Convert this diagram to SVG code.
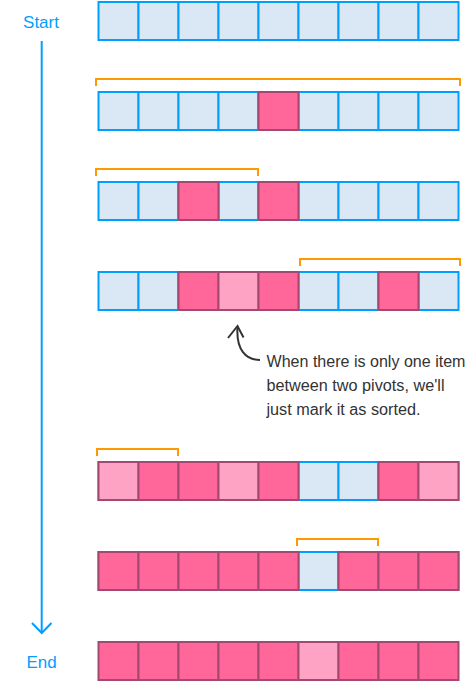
<svg xmlns="http://www.w3.org/2000/svg" width="475" height="682" viewBox="0 0 475 682">
<style>
.b{fill:#DAE8F6;stroke:#009FFF;stroke-width:2}
.p{fill:#FF6699;stroke:#A34870;stroke-width:2}
.l{fill:#FFA3C4;stroke:#A34870;stroke-width:2}
.br{fill:none;stroke:#FF9900;stroke-width:2}
.lbl{font-family:"Liberation Sans",Arial,sans-serif;font-size:17px;fill:#009FFF;text-anchor:middle}
.note{font-family:"Liberation Sans",Arial,sans-serif;font-size:16px;fill:#333333}
</style>
<defs>
<g id="row9">
<rect class="b" x="98.5" y="0" width="40" height="38"/>
<rect class="b" x="138.5" y="0" width="40" height="38"/>
<rect class="b" x="178.5" y="0" width="40" height="38"/>
<rect class="b" x="218.5" y="0" width="40" height="38"/>
<rect class="b" x="258.5" y="0" width="40" height="38"/>
<rect class="b" x="298.5" y="0" width="40" height="38"/>
<rect class="b" x="338.5" y="0" width="40" height="38"/>
<rect class="b" x="378.5" y="0" width="40" height="38"/>
<rect class="b" x="418.5" y="0" width="40" height="38"/>
</g>
</defs>
<g id="timeline">
<line x1="41.7" y1="41" x2="41.7" y2="632" stroke="#009FFF" stroke-width="2"/>
<path d="M32,623 L41.7,633 L51.5,623" fill="none" stroke="#009FFF" stroke-width="2"/>
<text id="start" class="lbl" x="41" y="28">Start</text>
<text id="end" class="lbl" x="41.5" y="668">End</text>
</g>
<g id="row1" transform="translate(0,2)">
<use href="#row9"/>
</g>
<g id="row2" transform="translate(0,92)">
<use href="#row9"/>
<rect class="p" x="258.5" y="0" width="40" height="38"/>
</g>
<g id="row3" transform="translate(0,182)">
<use href="#row9"/>
<rect class="p" x="178.5" y="0" width="40" height="38"/>
<rect class="p" x="258.5" y="0" width="40" height="38"/>
</g>
<g id="row4" transform="translate(0,272)">
<use href="#row9"/>
<rect class="p" x="178.5" y="0" width="40" height="38"/>
<rect class="l" x="218.5" y="0" width="40" height="38"/>
<rect class="p" x="258.5" y="0" width="40" height="38"/>
<rect class="p" x="378.5" y="0" width="40" height="38"/>
</g>
<g id="row5" transform="translate(0,462)">
<use href="#row9"/>
<rect class="l" x="98.5" y="0" width="40" height="38"/>
<rect class="p" x="138.5" y="0" width="40" height="38"/>
<rect class="p" x="178.5" y="0" width="40" height="38"/>
<rect class="l" x="218.5" y="0" width="40" height="38"/>
<rect class="p" x="258.5" y="0" width="40" height="38"/>
<rect class="p" x="378.5" y="0" width="40" height="38"/>
<rect class="l" x="418.5" y="0" width="40" height="38"/>
</g>
<g id="row6" transform="translate(0,552)">
<use href="#row9"/>
<rect class="p" x="98.5" y="0" width="40" height="38"/>
<rect class="p" x="138.5" y="0" width="40" height="38"/>
<rect class="p" x="178.5" y="0" width="40" height="38"/>
<rect class="p" x="218.5" y="0" width="40" height="38"/>
<rect class="p" x="258.5" y="0" width="40" height="38"/>
<rect class="p" x="338.5" y="0" width="40" height="38"/>
<rect class="p" x="378.5" y="0" width="40" height="38"/>
<rect class="p" x="418.5" y="0" width="40" height="38"/>
</g>
<g id="row7" transform="translate(0,642)">
<rect class="p" x="98.5" y="0" width="40" height="38"/>
<rect class="p" x="138.5" y="0" width="40" height="38"/>
<rect class="p" x="178.5" y="0" width="40" height="38"/>
<rect class="p" x="218.5" y="0" width="40" height="38"/>
<rect class="p" x="258.5" y="0" width="40" height="38"/>
<rect class="l" x="298.5" y="0" width="40" height="38"/>
<rect class="p" x="338.5" y="0" width="40" height="38"/>
<rect class="p" x="378.5" y="0" width="40" height="38"/>
<rect class="p" x="418.5" y="0" width="40" height="38"/>
</g>
<g id="brackets">
<path class="br" d="M96,86 V79 H460 V86"/>
<path class="br" d="M96,176 V169 H258 V176"/>
<path class="br" d="M300,266 V259 H460 V266"/>
<path class="br" d="M97,456 V449 H178 V456"/>
<path class="br" d="M297,546 V539 H378 V546"/>
</g>
<g id="annotation">
<path d="M260,360 C246,360 236,350 237.5,327" fill="none" stroke="#333333" stroke-width="2"/>
<path d="M228,338 L237.5,326 L243.5,337.5" fill="none" stroke="#333333" stroke-width="2"/>
<text class="note" x="266.5" y="367" textLength="199" lengthAdjust="spacingAndGlyphs">When there is only one item</text>
<text class="note" x="266.5" y="391" textLength="178" lengthAdjust="spacingAndGlyphs">between two pivots, we'll</text>
<text class="note" x="266.5" y="415" textLength="154" lengthAdjust="spacingAndGlyphs">just mark it as sorted.</text>
</g>
</svg>
